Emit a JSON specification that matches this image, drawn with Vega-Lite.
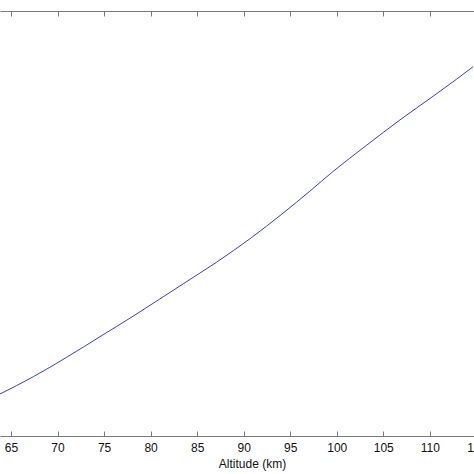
{
  "$schema": "https://vega.github.io/schema/vega-lite/v6.json",
  "autosize": {"type": "none"},
  "padding": {"left": 0, "top": 11, "right": 0, "bottom": 38},
  "width": 481,
  "height": 425,
  "background": "white",
  "config": {
    "view": {"stroke": null},
    "axis": {
      "grid": false,
      "domainColor": "#7a7a7a",
      "tickColor": "#7a7a7a",
      "labelColor": "#111111",
      "labelFont": "Liberation Sans",
      "labelFontSize": 12,
      "titleFont": "Liberation Sans",
      "titleFontSize": 12,
      "titleFontWeight": "normal",
      "titleColor": "#111111"
    }
  },
  "data": {
    "values": [
      {"alt": 63.82, "v": 0.0988},
      {"alt": 67.40, "v": 0.1395},
      {"alt": 70.98, "v": 0.1852},
      {"alt": 74.56, "v": 0.2336},
      {"alt": 78.13, "v": 0.2820},
      {"alt": 81.00, "v": 0.3225},
      {"alt": 83.50, "v": 0.3580},
      {"alt": 87.09, "v": 0.4090},
      {"alt": 90.67, "v": 0.4640},
      {"alt": 94.24, "v": 0.5245},
      {"alt": 97.11, "v": 0.5760},
      {"alt": 99.61, "v": 0.6225},
      {"alt": 103.20, "v": 0.6840},
      {"alt": 106.78, "v": 0.7435},
      {"alt": 110.36, "v": 0.7995},
      {"alt": 112.87, "v": 0.8395},
      {"alt": 114.65, "v": 0.8689}
    ]
  },
  "layer": [
    {
      "mark": {"type": "line", "color": "#3f3fbf", "strokeWidth": 1, "clip": true, "interpolate": "monotone"},
      "encoding": {
        "x": {
          "field": "alt", "type": "quantitative",
          "scale": {"domain": [63.82, 115.5], "nice": false, "zero": false},
          "axis": {
            "orient": "bottom",
            "values": [65, 70, 75, 80, 85, 90, 95, 100, 105, 110, 115],
            "tickSize": -5,
            "labelPadding": 11,
            "title": "Altitude (km)",
            "titleX": 252,
            "titleY": 27,
            "titleBaseline": "middle",
            "titleAnchor": "start",
            "titleAlign": "center",
            "labelFlush": false,
            "labelOverlap": false
          }
        },
        "y": {
          "field": "v", "type": "quantitative",
          "scale": {"domain": [0, 1], "nice": false, "zero": false},
          "axis": null
        }
      }
    },
    {
      "mark": {"type": "line", "opacity": 0},
      "encoding": {
        "x": {
          "field": "alt", "type": "quantitative",
          "axis": {
            "orient": "top",
            "values": [65, 70, 75, 80, 85, 90, 95, 100, 105, 110, 115],
            "tickSize": -5,
            "labels": false,
            "title": null
          }
        },
        "y": {"field": "v", "type": "quantitative", "axis": null}
      }
    }
  ],
  "resolve": {"axis": {"x": "independent"}}
}
